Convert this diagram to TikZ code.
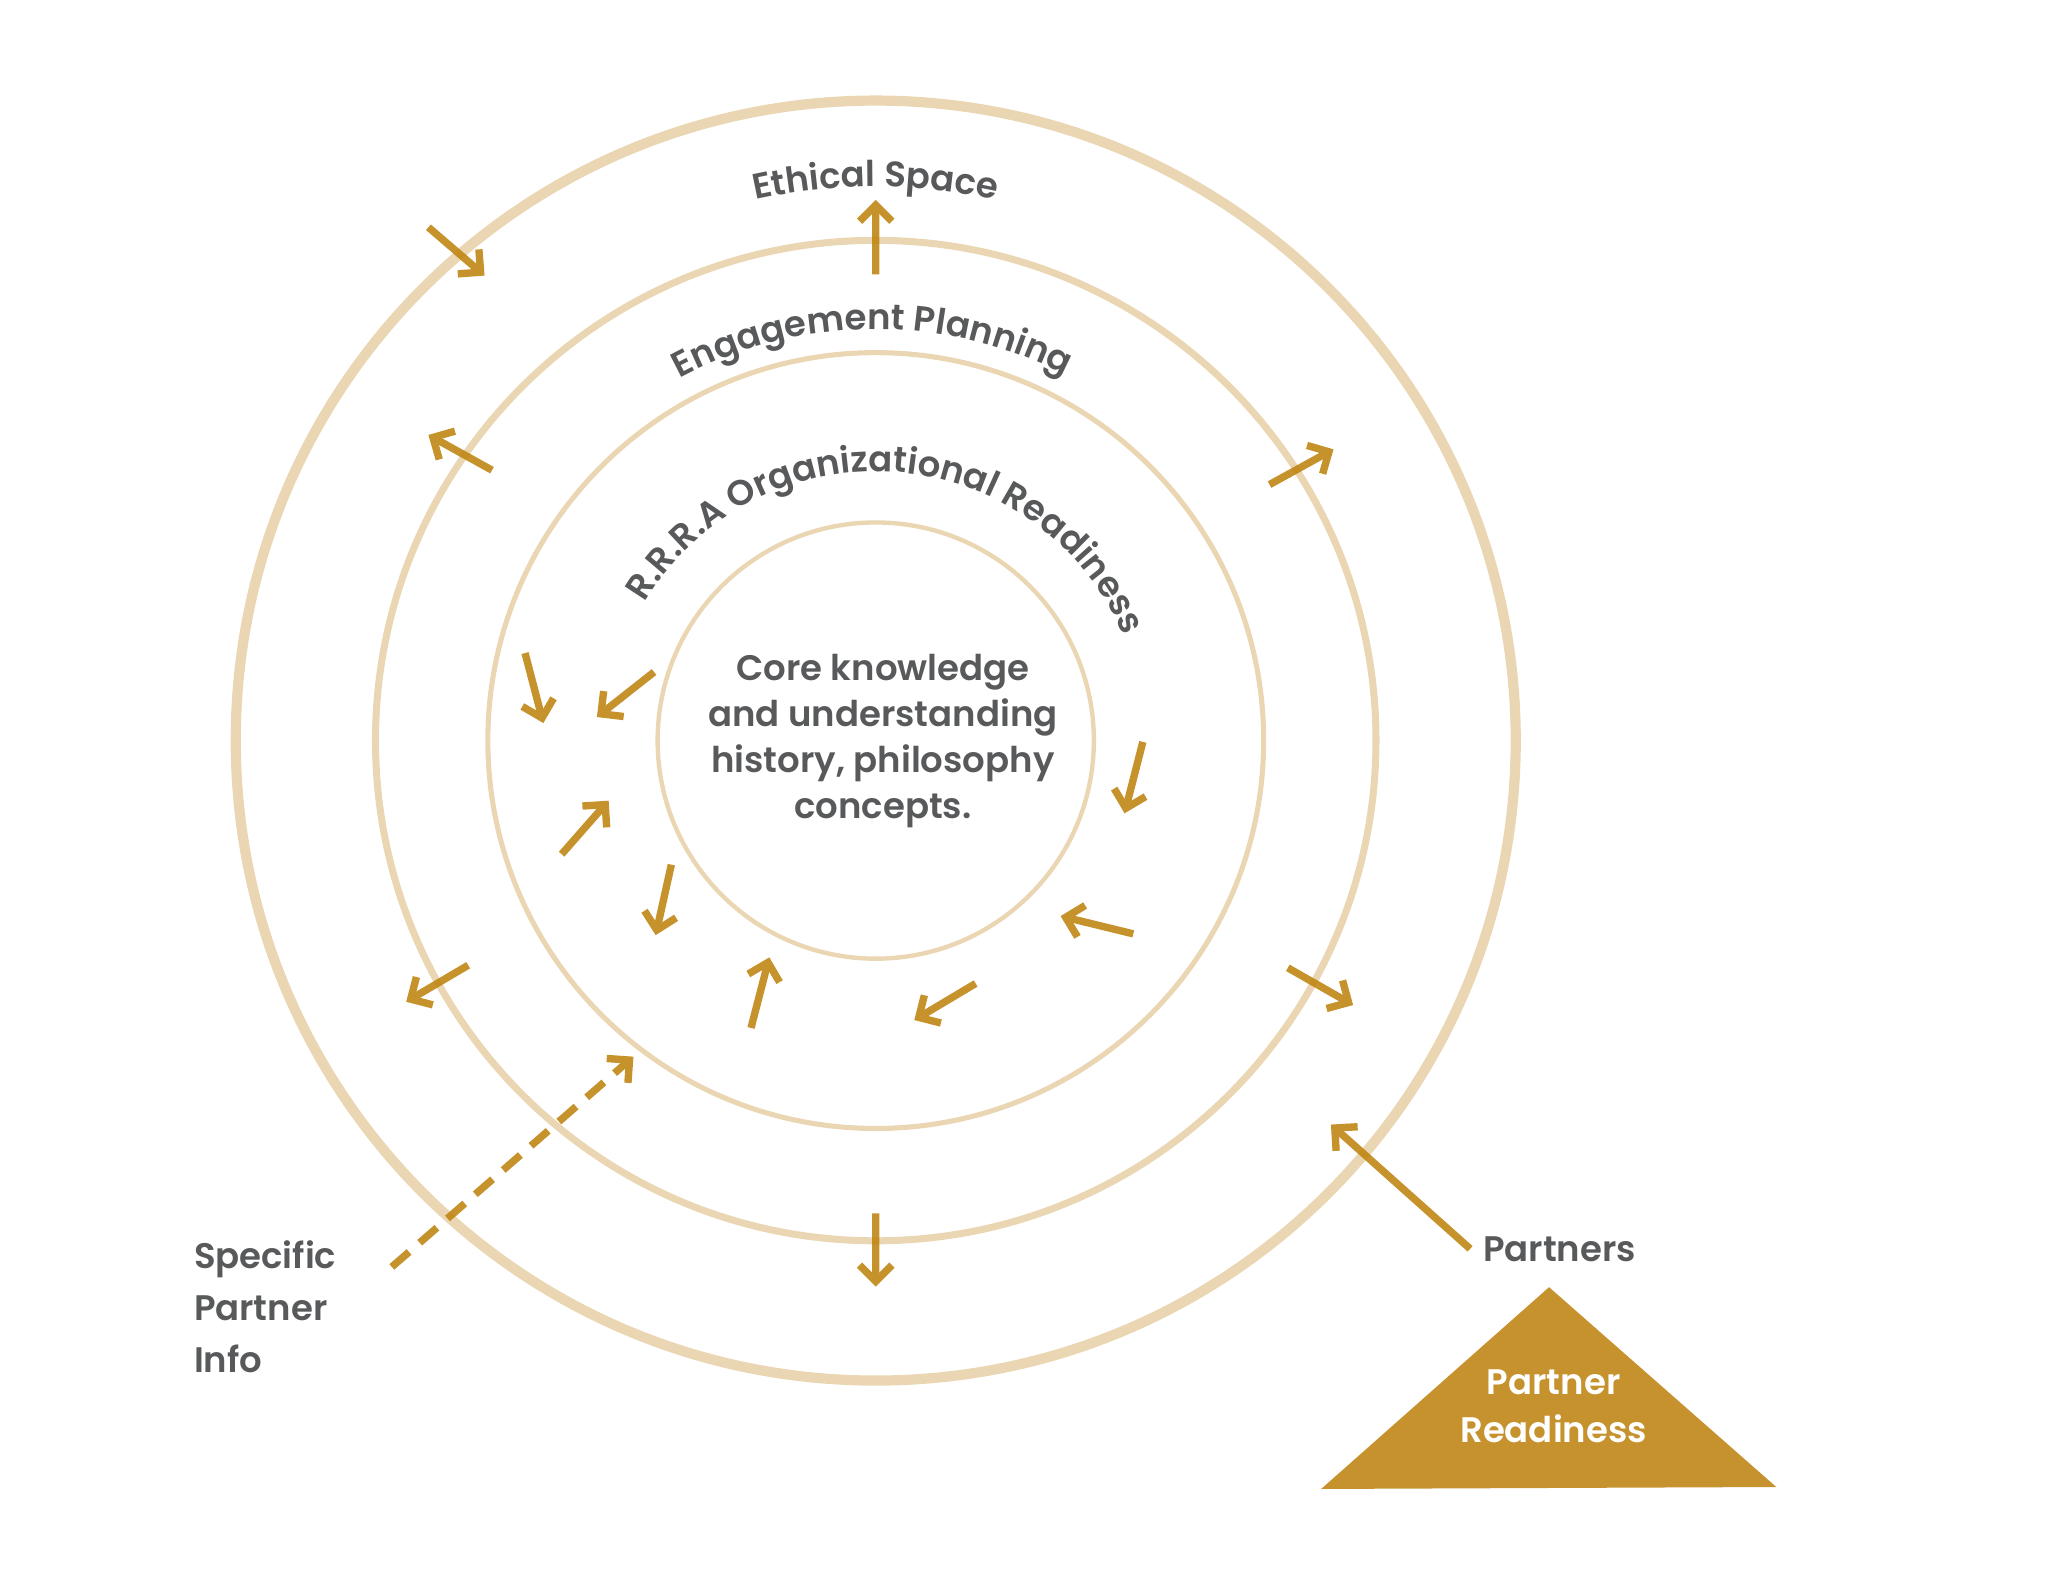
\documentclass[tikz,border=0pt]{standalone}
\usepackage{fontspec}
\setmainfont{Poppins}[BoldFont={Poppins SemiBold}]
\usetikzlibrary{arrows.meta,decorations.text}
\definecolor{ringtan}{HTML}{EAD6B2}
\definecolor{flowgold}{HTML}{BE830F}
\definecolor{inkgray}{HTML}{58595B}
\definecolor{readygold}{HTML}{C6922E}
\newcommand{\ringfont}{\bfseries\fontsize{10.1}{12}\selectfont\color{inkgray}}
\tikzset{
  ring-line/.style={draw=ringtan},
  flow-arrow/.style={draw=flowgold, line width=2.1pt, -{Straight Barb[sharp, length=4.6pt, width=9.2pt]}},
  ring-label/.style={font=\bfseries\fontsize{10.1}{13.1}\selectfont, text=inkgray, inner sep=0pt}
}

\begin{document}
\begin{tikzpicture}[x=0.0130612cm, y=0.0130612cm]
  \useasboundingbox (-670.5,-645) rectangle (897.5,567);

  % Rings
  \draw[ring-line, line width=2.9pt] (0,0) circle[radius=490];
  \draw[ring-line, line width=2.0pt] (0,0) circle[radius=383];
  \draw[ring-line, line width=1.45pt] (0,0) circle[radius=297];
  \draw[ring-line, line width=1.25pt] (0,0) circle[radius=167];

  % Ring titles
  \path[decorate, decoration={text along path, text align=center,
    text={|\ringfont|Ethical Space}}] (130:424) arc[start angle=130, end angle=50, radius=424];
  \path[decorate, decoration={text along path, text align=center,
    text={|\ringfont|Engagement Planning}}] (150.5:315) arc[start angle=150.5, end angle=30.5, radius=315];
  \path[decorate, decoration={text along path, text align=center,
    text={|\ringfont|R.R.R.A Organizational Readiness}}] (176:206) arc[start angle=176, end angle=-4, radius=206];

  % Centre text
  \node[ring-label, align=center] (core) at (5.5,-0.5)
    {Core knowledge\\and understanding\\history, philosophy\\concepts.};

  % Side labels
  \node[ring-label, anchor=base west] (partners) at (464.5,-398.5) {Partners};
  \node[ring-label, anchor=north west, align=left, font=\bfseries\fontsize{10.1}{14.8}\selectfont]
    (partner-info) at (-522.5,-382) {Specific\\Partner\\Info};

  % Partner readiness triangle
  \coordinate (tri-top) at (515.5,-418.5);
  \coordinate (tri-left) at (341,-573);
  \coordinate (tri-right) at (689.5,-571.5);
  \fill[readygold] (tri-top) -- (tri-left) -- (tri-right) -- cycle;
  \node[ring-label, align=center, text=white, font=\bfseries\fontsize{10.1}{13.7}\selectfont]
    (readiness) at (519,-509.5) {Partner\\Readiness};

  % Flow arrows
  \begin{scope}[transparency group, opacity=0.88]
    \foreach \nm/\sx/\sy/\ex/\ey in {
        up/0/357/0/414, down/0/-362/0/-418,
        nw/-342.5/393/-299.5/356, wnw/-293.8/207/-342.5/234,
        ene/301.5/196/350.5/223, wsw/-312/-172/-359.5/-200,
        ese/315.5/-174/365.5/-202.5,
        in1/-268.5/67/-254.5/13.4, in2/-169.7/52.5/-213.5/18,
        in3/-240.5/-87/-204.5/-46, in4/-156.5/-95/-168.5/-149,
        in5/-95.5/-220/-81.5/-166, in6/76.5/-186/29.5/-214,
        in7/197.2/-148/141.5/-134.4, in8/204.5/-1/190.5/-55.7} {
      \coordinate (\nm-s) at (\sx,\sy);
      \coordinate (\nm-e) at (\ex,\ey);
      \draw[flow-arrow] (\nm-s) -- (\nm-e);
    }
    % Partners push in
    \coordinate (partners-in) at (348.5,-294);
    \draw[flow-arrow] ([xshift=-3.5pt]partners.west) -- (partners-in);
    % Specific info, dashed
    \coordinate (info-s) at (-370.5,-403);
    \coordinate (info-e) at (-185.5,-242);
    \draw[flow-arrow, dash pattern=on 6.5pt off 4pt] (info-s) -- (info-e);
  \end{scope}
\end{tikzpicture}
\end{document}
